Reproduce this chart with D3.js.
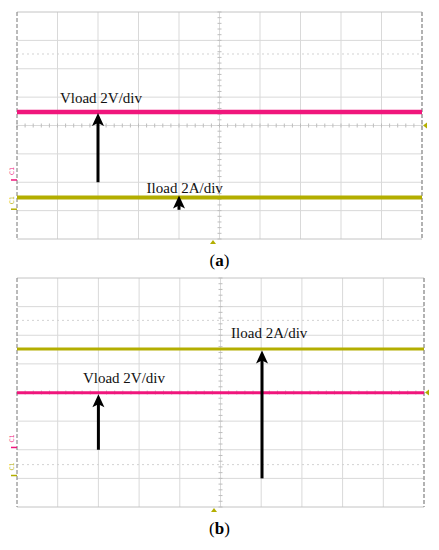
<!DOCTYPE html>
<html>
<head>
<meta charset="utf-8">
<script src="https://cdn.jsdelivr.net/npm/d3@7"></script>
<style>
	body { margin:0; background:#fff; }
	svg { display:block; }
</style>
</head>
<body>
<div id="chart"></div>
<script>
// values in scope divisions (10 x 8 grid, 0 = centre line)
var panels = ["a", "b"];
var divX = [0,1,2,3,4,5,6,7,8,9,10];
var divY = [-4,-3,-2,-1,0,1,2,3,4];
var cursorLevels = [2.52, -2.52];

// traces: [time div, level div]
var vloadA = [[0,0.48],[2.5,0.48],[5,0.48],[7.5,0.48],[10,0.48]];
var iloadA = [[0,-2.54],[2.5,-2.54],[5,-2.54],[7.5,-2.54],[10,-2.54]];
var vloadB = [[0,-0.01],[2.5,-0.01],[5,-0.01],[7.5,-0.01],[10,-0.01]];
var iloadB = [[0,1.52],[2.5,1.52],[5,1.52],[7.5,1.52],[10,1.52]];

// annotations: label, text x, text y, arrow x, arrow from, arrow to
var notesA = [["Vload 2V/div",1.06,0.79,2,-2,0.44],["Iload 2A/div",3.2,-2.38,4,-2.97,-2.47]];
var notesB = [["Vload 2V/div",1.62,0.33,2,-2,-0.06],["Iload 2A/div",5.26,1.9,6.02,-3,1.47]];

// channel ground markers (div)
var markA = [-1.92,-2.95];
var markB = [-1.92,-2.9];

var width = 439, height = 550;
var pink = "#f0167c", olive = "#b3ae00";

var svg = d3.select("#chart").append("svg")
	.attr("width", width)
	.attr("height", height);

var boxes = [
	{x0:17, x1:422, y0:12, y1:239, cap:266, v:vloadA, i:iloadA, notes:notesA, marks:markA},
	{x0:17, x1:424, y0:278, y1:507, cap:534, v:vloadB, i:iloadB, notes:notesB, marks:markB}
];

boxes.forEach(function(b, k){
	var x = d3.scaleLinear().domain([0,10]).range([b.x0, b.x1]);
	var y = d3.scaleLinear().domain([-4,4]).range([b.y1, b.y0]);
	var g = svg.append("g");

	// grid
	g.selectAll(".vg").data(divX.slice(1,-1)).enter().append("line")
		.attr("x1", function(d){ return x(d); }).attr("x2", function(d){ return x(d); })
		.attr("y1", b.y0).attr("y2", b.y1)
		.style("stroke", "#d9d9d9").style("stroke-width", 1);
	g.selectAll(".hg").data(divY).enter().append("line")
		.attr("x1", b.x0).attr("x2", b.x1)
		.attr("y1", function(d){ return y(d); }).attr("y2", function(d){ return y(d); })
		.style("stroke", function(d){ return Math.abs(d) == 4 ? "#c4c4c4" : "#d9d9d9"; })
		.style("stroke-width", 1);

	// dotted cursors
	g.selectAll(".cur").data(cursorLevels).enter().append("line")
		.attr("x1", b.x0).attr("x2", b.x1)
		.attr("y1", function(d){ return y(d); }).attr("y2", function(d){ return y(d); })
		.style("stroke", "#d2d2d2").style("stroke-width", 1)
		.style("stroke-dasharray", "2,3");

	// minor ticks on centre lines
	var ticksX = d3.range(0, 10.01, 0.2), ticksY = d3.range(-4, 4.01, 0.2);
	g.selectAll(".tx").data(ticksX).enter().append("line")
		.attr("x1", function(d){ return x(d); }).attr("x2", function(d){ return x(d); })
		.attr("y1", y(0) - 2).attr("y2", y(0) + 2)
		.style("stroke", "#bdbdbd");
	g.selectAll(".ty").data(ticksY).enter().append("line")
		.attr("y1", function(d){ return y(d); }).attr("y2", function(d){ return y(d); })
		.attr("x1", x(5) - 2).attr("x2", x(5) + 2)
		.style("stroke", "#bdbdbd");

	// side borders, dashed
	g.append("line").attr("x1", b.x0).attr("x2", b.x0).attr("y1", b.y0).attr("y2", b.y1)
		.style("stroke", "#777").style("stroke-width", 1).style("stroke-dasharray", "4,2");
	g.append("line").attr("x1", b.x1).attr("x2", b.x1).attr("y1", b.y0).attr("y2", b.y1)
		.style("stroke", "#999").style("stroke-width", 1.5).style("stroke-dasharray", "4,2");

	// traces
	var line = d3.line().x(function(d){ return x(d[0]); }).y(function(d){ return y(d[1]); });
	g.append("path").datum(b.v).attr("d", line)
		.style("fill", "none").style("stroke", pink).style("stroke-width", k == 0 ? 4.5 : 3);
	g.append("path").datum(b.i).attr("d", line)
		.style("fill", "none").style("stroke", olive).style("stroke-width", k == 0 ? 4 : 3);

	// channel markers on left
	b.marks.forEach(function(m, j){
		var col = j == 0 ? pink : olive;
		g.append("line").attr("x1", b.x0 - 6).attr("x2", b.x0).attr("y1", y(m)).attr("y2", y(m))
			.style("stroke", col).style("stroke-width", 1.5);
		g.append("text")
			.attr("transform", "translate(" + (b.x0 - 3) + "," + (y(m) - 5) + ") rotate(-90)")
			.attr("font-family", "DejaVu Sans").attr("font-size", 6)
			.attr("fill", col).text("C1");
	});

	// trigger markers
	g.append("path")
		.attr("d", "M" + (x(4.84) - 3) + "," + (b.y1 + 5) + "L" + (x(4.84) + 3) + "," + (b.y1 + 5) + "L" + x(4.84) + "," + (b.y1 + 1) + "Z")
		.style("fill", olive);
	g.append("path")
		.attr("d", "M" + (b.x1 + 1) + "," + y(0) + "L" + (b.x1 + 5) + "," + (y(0) - 3) + "L" + (b.x1 + 5) + "," + (y(0) + 3) + "Z")
		.style("fill", olive);

	// annotations
	b.notes.forEach(function(n){
		g.append("text").attr("x", x(n[1])).attr("y", y(n[2]))
			.attr("font-family", "Liberation Serif").attr("font-size", 15)
			.attr("fill", "#111").text(n[0]);
		var ax = x(n[3]), yf = y(n[4]), yt = y(n[5]);
		g.append("line").attr("x1", ax).attr("x2", ax).attr("y1", yf).attr("y2", yt + 8)
			.style("stroke", "#000").style("stroke-width", 3);
		g.append("path")
			.attr("d", "M" + ax + "," + yt + "L" + (ax + 6) + "," + (yt + 13) + "L" + ax + "," + (yt + 10) + "L" + (ax - 6) + "," + (yt + 13) + "Z")
			.style("fill", "#000");
	});

	// caption
	var cap = svg.append("text").attr("x", width / 2).attr("y", b.cap)
		.attr("text-anchor", "middle")
		.attr("font-family", "Liberation Serif").attr("font-size", 17).attr("fill", "#000");
	cap.append("tspan").text("(");
	cap.append("tspan").attr("font-weight", "bold").text(panels[k]);
	cap.append("tspan").text(")");
});
</script>
</body>
</html>
